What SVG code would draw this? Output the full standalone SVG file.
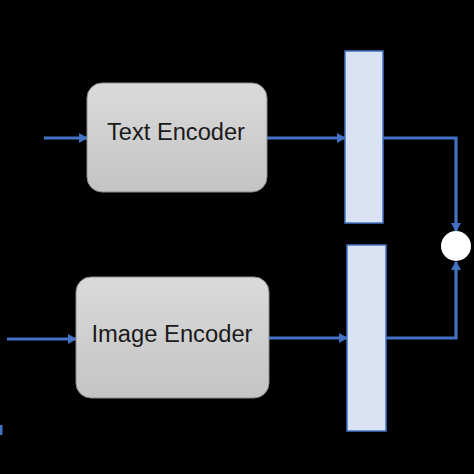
<svg xmlns="http://www.w3.org/2000/svg" width="474" height="474" viewBox="0 0 474 474">
<style>
.enc{stroke:#8c8c8c;stroke-width:1;fill:url(#g)}
.bar{fill:#dae3f3;stroke:#4472c4;stroke-width:1.5}
.lbl{font-family:"Liberation Sans",Arial,sans-serif;font-size:23px;fill:#1a1a1a;text-anchor:middle}
.ln{fill:none;stroke:#4472c4;stroke-width:3.2}
</style>
<defs>
<linearGradient id="g" x1="0" y1="0" x2="0" y2="1">
<stop offset="0" stop-color="#dadada"/>
<stop offset="1" stop-color="#c4c4c4"/>
</linearGradient>
<marker id="a" markerWidth="10" markerHeight="10" refX="8" refY="5" orient="auto" markerUnits="userSpaceOnUse">
<path d="M0,0 L9,5 L0,10 Z" fill="#4472c4"/>
</marker>
</defs>
<rect width="474" height="474" fill="#000"/>
<g id="connectors">
<line class="ln" x1="44" y1="138" x2="87" y2="138" marker-end="url(#a)"/>
<line class="ln" x1="267" y1="138" x2="345" y2="138" marker-end="url(#a)"/>
<line class="ln" x1="7" y1="339" x2="76" y2="339" marker-end="url(#a)"/>
<line class="ln" x1="269" y1="338" x2="347" y2="338" marker-end="url(#a)"/>
<polyline class="ln" points="383,138 456,138 456,231" marker-end="url(#a)"/>
<polyline class="ln" points="386,338 456,338 456,262" marker-end="url(#a)"/>
<rect x="0" y="425" width="2.5" height="10" fill="#4472c4"/>
</g>
<g id="text-encoder">
<rect class="enc" x="87" y="83" width="180" height="109" rx="15"/>
<text class="lbl" x="176" y="140" textLength="138" lengthAdjust="spacingAndGlyphs">Text Encoder</text>
</g>
<g id="image-encoder">
<rect class="enc" x="76" y="277" width="193" height="121" rx="15"/>
<text class="lbl" x="172" y="342" textLength="161" lengthAdjust="spacingAndGlyphs">Image Encoder</text>
</g>
<g id="text-embedding">
<rect class="bar" x="345" y="51" width="38" height="172"/>
</g>
<g id="image-embedding">
<rect class="bar" x="347" y="245" width="39" height="186"/>
</g>
<g id="combine">
<circle cx="456" cy="246" r="15" fill="#fff"/>
</g>
</svg>
